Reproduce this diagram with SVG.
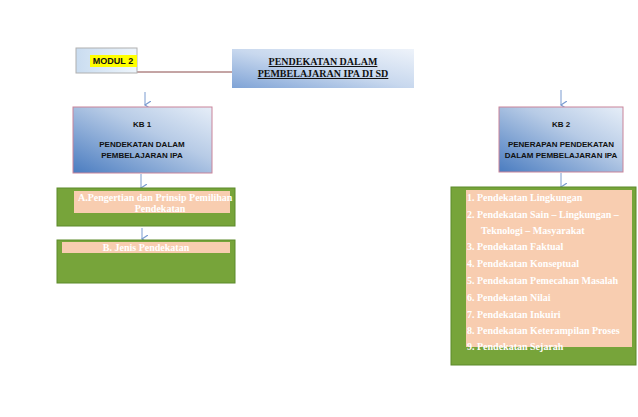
<svg xmlns="http://www.w3.org/2000/svg" width="638" height="417" viewBox="0 0 638 417">
<defs>
<linearGradient id="kb" x1="0" y1="1" x2="1" y2="0"><stop offset="0" stop-color="#4a7cc0"/><stop offset="0.6" stop-color="#b7cbe6"/><stop offset="1" stop-color="#e6eef8"/></linearGradient>
<linearGradient id="tt" x1="0" y1="1" x2="1" y2="0"><stop offset="0" stop-color="#7fa3d6"/><stop offset="0.5" stop-color="#c8d8ee"/><stop offset="1" stop-color="#eef3fa"/></linearGradient>
<linearGradient id="md" x1="0" y1="0" x2="1" y2="0"><stop offset="0" stop-color="#c9dcf0"/><stop offset="1" stop-color="#eef5fb"/></linearGradient>
<marker id="ar" markerWidth="8" markerHeight="8" refX="4" refY="6" orient="auto" markerUnits="userSpaceOnUse"><path d="M0,0 L4,6 L8,0" fill="none" stroke="#7a9bd0" stroke-width="1.2"/></marker>
</defs>
<style>
.kb{fill:url(#kb);stroke:#c9849a;stroke-width:1}
.g{fill:#77a43a;stroke:#5d8a2a;stroke-width:1}
.p{fill:#f8cdb0}
.s{font-family:"Liberation Sans",Arial,sans-serif;font-size:8px;font-weight:bold;fill:#111;text-anchor:middle}
.w{font-family:"Liberation Serif","Times New Roman",serif;font-size:10px;font-weight:bold;fill:#fff}
.c{stroke:#7a9bd0;stroke-width:1;fill:none;marker-end:url(#ar)}
</style>
<rect width="638" height="417" fill="#fff"/>
<g id="connectors">
<line x1="137" y1="72" x2="233" y2="72" stroke="#8a4a4a" stroke-width="1"/>
<line class="c" x1="145" y1="92" x2="145" y2="105"/>
<line class="c" x1="141" y1="174" x2="141" y2="188"/>
<line class="c" x1="142" y1="228" x2="142" y2="239"/>
<line class="c" x1="561" y1="90" x2="561" y2="105"/>
<line class="c" x1="561" y1="173" x2="561" y2="187"/>
</g>
<g id="modul">
<rect x="76" y="48" width="61" height="25" fill="url(#md)" stroke="#b0b0b0"/>
<rect x="90" y="55" width="47" height="12" fill="#ffff00"/>
<text x="113" y="64" class="s" style="font-size:9px">MODUL 2</text>
</g>
<g id="title">
<rect x="232" y="49" width="182" height="39" fill="url(#tt)"/>
<text x="323" y="65" class="s" style="font-family:'Liberation Serif',serif;font-size:10px;text-decoration:underline">PENDEKATAN DALAM</text>
<text x="323" y="77" class="s" style="font-family:'Liberation Serif',serif;font-size:10px;text-decoration:underline">PEMBELAJARAN IPA DI SD</text>
</g>
<g id="kb1">
<rect class="kb" x="73" y="107" width="139" height="66"/>
<text x="142" y="127" class="s">KB 1</text>
<text x="142" y="147" class="s">PENDEKATAN DALAM</text>
<text x="142" y="158" class="s">PEMBELAJARAN IPA</text>
</g>
<g id="kb2">
<rect class="kb" x="499" y="107" width="124" height="65"/>
<text x="561" y="127" class="s">KB 2</text>
<text x="561" y="147" class="s">PENERAPAN PENDEKATAN</text>
<text x="561" y="158" class="s">DALAM PEMBELAJARAN IPA</text>
</g>
<g id="a">
<rect class="g" x="57" y="188" width="178" height="38"/>
<rect class="p" x="74" y="191" width="156" height="22"/>
<text x="78" y="201" class="w">A.</text>
<text x="160" y="201" class="w" text-anchor="middle">Pengertian dan Prinsip Pemilihan</text>
<text x="160" y="212" class="w" text-anchor="middle">Pendekatan</text>
</g>
<g id="b">
<rect class="g" x="57" y="240" width="178" height="43"/>
<rect class="p" x="62" y="242" width="168" height="11"/>
<text x="146" y="251" class="w" text-anchor="middle">B. Jenis Pendekatan</text>
</g>
<g id="list">
<rect class="g" x="451" y="187" width="185" height="178"/>
<rect class="p" x="466" y="190" width="166" height="157"/>
<text class="w" x="467" y="201">1.  Pendekatan Lingkungan</text>
<text class="w" x="467" y="218">2.  Pendekatan Sain – Lingkungan –</text>
<text class="w" x="481" y="234">Teknologi – Masyarakat</text>
<text class="w" x="467" y="250">3.  Pendekatan Faktual</text>
<text class="w" x="467" y="267">4.  Pendekatan Konseptual</text>
<text class="w" x="467" y="284">5.  Pendekatan Pemecahan Masalah</text>
<text class="w" x="467" y="301">6.  Pendekatan Nilai</text>
<text class="w" x="467" y="318">7.  Pendekatan Inkuiri</text>
<text class="w" x="467" y="334">8.  Pendekatan Keterampilan Proses</text>
<text class="w" x="467" y="350">9.  Pendekatan Sejarah</text>
</g>
</svg>
